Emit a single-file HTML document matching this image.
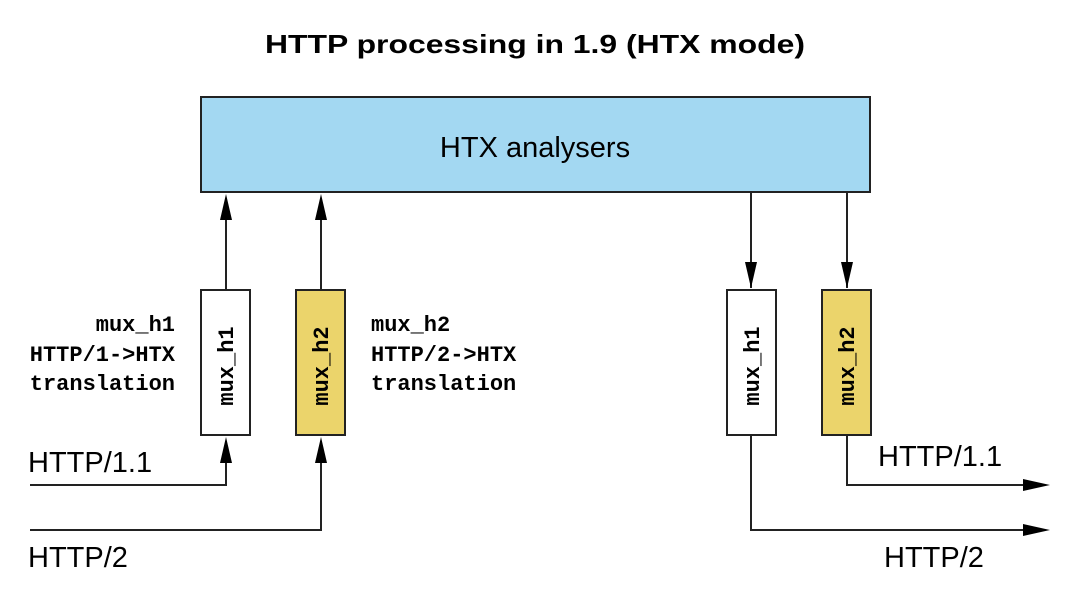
<!DOCTYPE html>
<html><head><style>body{margin:0;background:#fff}</style></head><body>
<svg width="1080" height="600" xmlns="http://www.w3.org/2000/svg">
<text x="265" y="53" textLength="540" lengthAdjust="spacingAndGlyphs" font-family="Liberation Sans, sans-serif" font-weight="bold" font-size="26">HTTP processing in 1.9 (HTX mode)</text>
<rect x="201" y="97" width="669" height="95" fill="#a3d8f2" stroke="#222" stroke-width="2"/>
<text x="535" y="157" text-anchor="middle" font-family="Liberation Sans, sans-serif" font-size="29">HTX analysers</text>
<g stroke="#222" stroke-width="2" fill="none">
<path d="M226 290 V198"/>
<path d="M321 290 V198"/>
<path d="M751 192 V288"/><path d="M847 192 V288"/>
<path d="M30 485 H226 V441"/><path d="M30 530 H321 V441"/>
<path d="M847 435 V485 H1025"/><path d="M751 435 V530 H1025"/>
</g>
<g fill="#000">
<path d="M220 220 L226 194 L232 220z"/><path d="M315 220 L321 194 L327 220z"/>
<path d="M745 262 L751 288 L757 262z"/><path d="M841 262 L847 288 L853 262z"/>
<path d="M220 463 L226 437 L232 463z"/><path d="M315 463 L321 437 L327 463z"/>
<path d="M1023 479 L1050 485 L1023 491z"/><path d="M1023 524 L1050 530 L1023 536z"/>
</g>
<rect x="201" y="290" width="49" height="145" fill="#fff" stroke="#222" stroke-width="2"/>
<rect x="296" y="290" width="49" height="145" fill="#ebd46b" stroke="#222" stroke-width="2"/>
<rect x="727" y="290" width="49" height="145" fill="#fff" stroke="#222" stroke-width="2"/>
<rect x="822" y="290" width="49" height="145" fill="#ebd46b" stroke="#222" stroke-width="2"/>
<g font-family="Liberation Mono, monospace" font-weight="bold" font-size="22">
<text transform="translate(233,366) rotate(-90)" text-anchor="middle">mux_h1</text>
<text transform="translate(328,366) rotate(-90)" text-anchor="middle">mux_h2</text>
<text transform="translate(759,366) rotate(-90)" text-anchor="middle">mux_h1</text>
<text transform="translate(854,366) rotate(-90)" text-anchor="middle">mux_h2</text>
<g text-anchor="end"><text x="175" y="331">mux_h1</text><text x="175" y="361">HTTP/1-&gt;HTX</text><text x="175" y="390">translation</text></g>
<text x="371" y="331">mux_h2</text><text x="371" y="361">HTTP/2-&gt;HTX</text><text x="371" y="390">translation</text>
</g>
<g font-family="Liberation Sans, sans-serif" font-size="29">
<text x="28" y="472">HTTP/1.1</text><text x="28" y="567">HTTP/2</text>
<text x="878" y="466">HTTP/1.1</text><text x="884" y="567">HTTP/2</text>
</g>
</svg>
</body></html>
